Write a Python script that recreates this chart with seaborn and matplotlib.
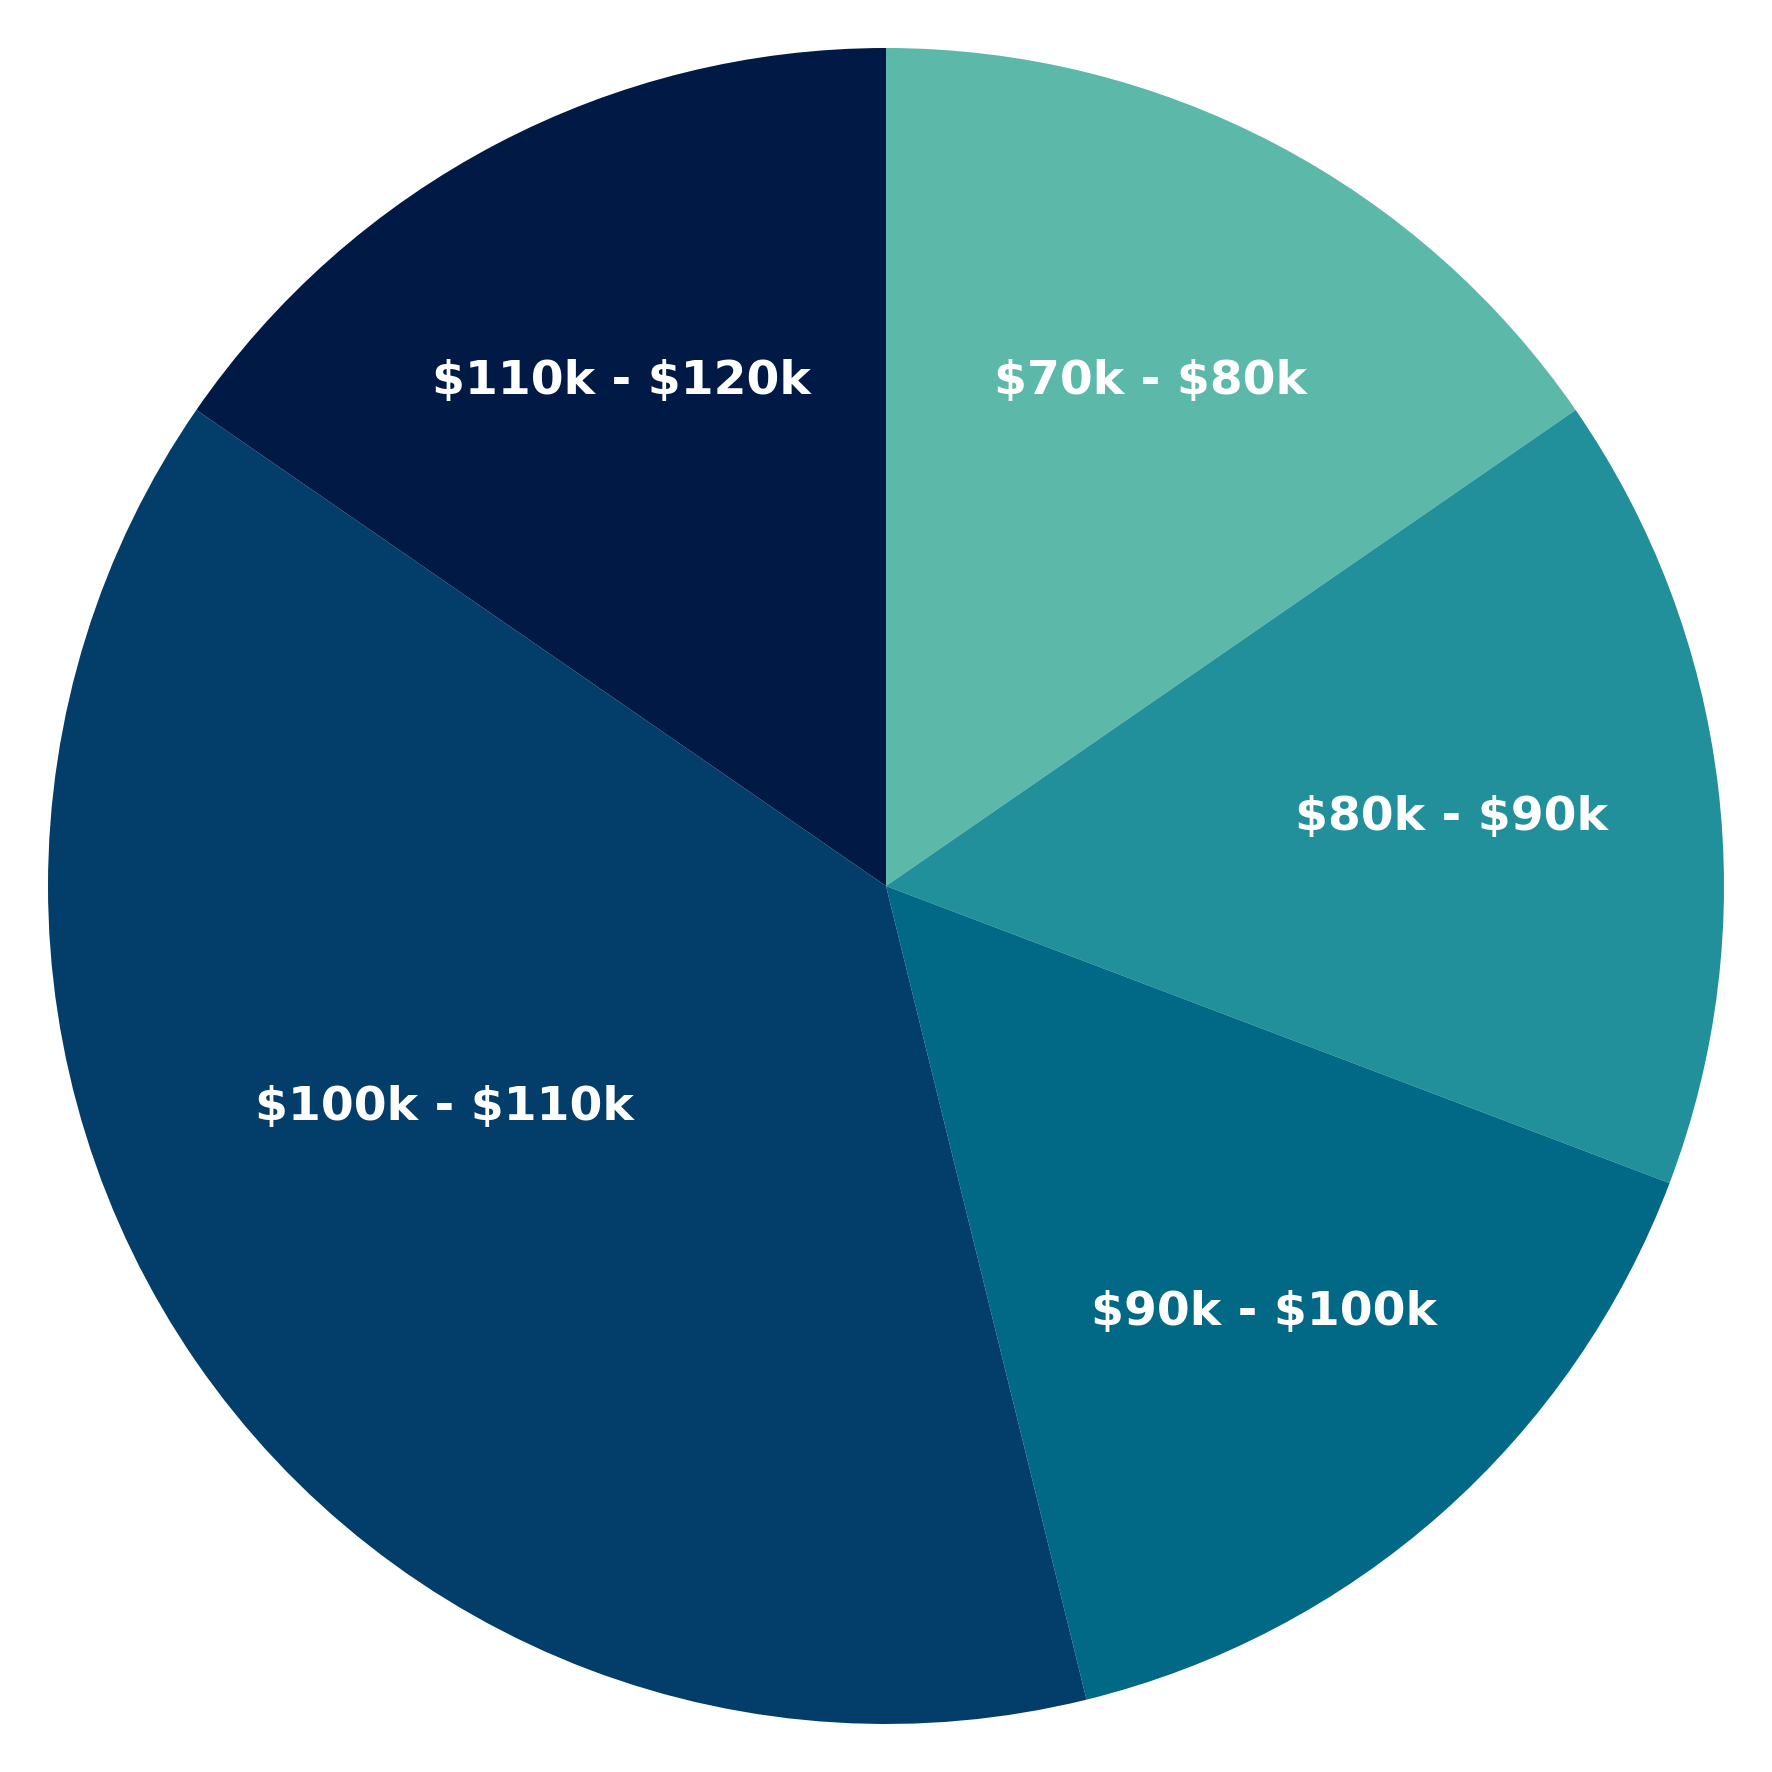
import numpy as np
import matplotlib
matplotlib.use("Agg")
import matplotlib.pyplot as plt
import seaborn as sns

# data (share of respondents per salary band)
bands = ["$70k - $80k", "$80k - $90k", "$90k - $100k", "$100k - $110k", "$110k - $120k"]
counts = [2, 2, 2, 5, 2]
colors = ["#5cb8a8", "#21909a", "#016885", "#023e69", "#001a45"]

sns.set_theme(style="white")
plt.rcParams["font.family"] = ["DejaVu Sans"]
plt.rcParams["text.parse_math"] = False  # keep the dollar signs literal

fig = plt.figure(figsize=(8.86, 8.86), dpi=200)
ax = fig.add_axes([0, 0, 1, 1])

wedges, texts = ax.pie(
    counts,
    labels=bands,
    colors=colors,
    startangle=90,
    counterclock=False,
    labeldistance=0.68,
    wedgeprops=dict(linewidth=0),
    textprops=dict(color="white", fontsize=17, fontweight="bold",
                   ha="center", va="center"),
)

# the big slice label sits a bit further round and closer in
big = counts.index(max(counts))
w = wedges[big]
ang = np.deg2rad((w.theta1 + w.theta2) / 2 - 8)
texts[big].set_position((0.59 * np.cos(ang), 0.59 * np.sin(ang)))

lim = 886 / 838
ax.set_xlim(-lim, lim)
ax.set_ylim(-lim, lim)
ax.set_aspect("equal")
ax.axis("off")

fig.savefig("out.png", dpi=200, facecolor="white")
